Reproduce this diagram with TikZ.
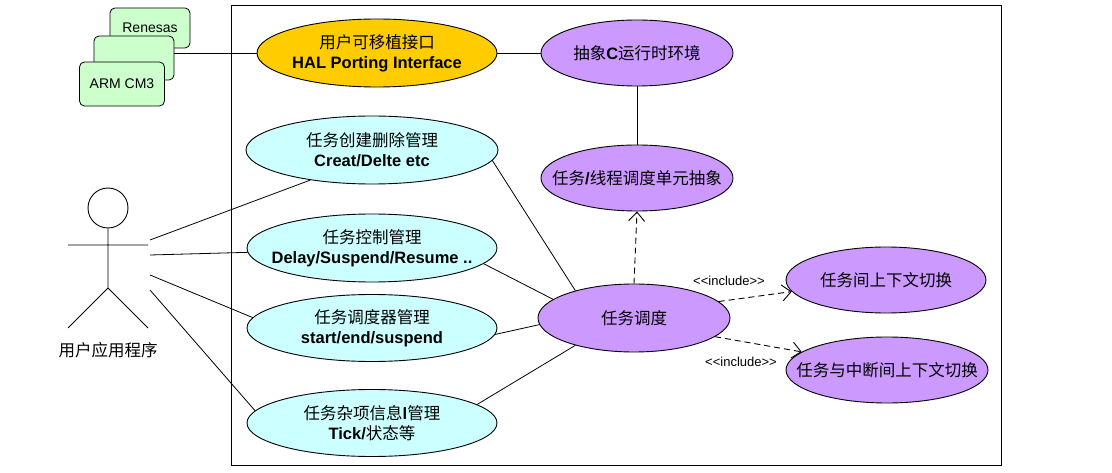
\documentclass[tikz,border=0pt]{standalone}
\usepackage{fontspec}
\setmainfont{Liberation Sans}
\newfontfamily\cjk{Noto Sans CJK SC}
\usetikzlibrary{shapes.geometric,arrows.meta}
\definecolor{uorange}{HTML}{FFCC00}
\definecolor{ucyan}{HTML}{CCFFFF}
\definecolor{upurple}{HTML}{CC99FF}
\definecolor{ugreen}{HTML}{CCFFCC}
\begin{document}
\begin{tikzpicture}[x=1pt,y=-1pt,
  uc/.style={ellipse,draw,line width=0.9pt,inner sep=0pt,align=center,font=\fontsize{16.5}{20}\selectfont},
  uct/.style={inner sep=0pt,align=center,font=\fontsize{16.5}{20}\selectfont},
  box/.style={draw,rounded corners=5pt,fill=ugreen,line width=0.8pt,font=\fontsize{14}{16}\selectfont},
  conn/.style={line width=0.8pt},
  dep/.style={line width=0.9pt,dashed,dash pattern=on 6pt off 4pt,-{Straight Barb[length=9pt,width=16pt]}},
  lab/.style={font=\fontsize{13}{15}\selectfont}]
\useasboundingbox (0,0) rectangle (1112,473);
\fill[white] (0,0) rectangle (1112,473);
\node[draw,line width=0.8pt,minimum width=770pt,minimum height=460pt,inner sep=0pt] (sys) at (616,235) {};
% boxes
\node[box,minimum width=80pt,minimum height=40pt] (ren) at (150,28) {Renesas};
\node[box,minimum width=80pt,minimum height=44pt] (mid) at (134,58) {};
\node[box,minimum width=85pt,minimum height=44pt] (arm) at (122,84) {ARM CM3};
% use cases
\node[uc,fill=uorange,minimum width=240pt,minimum height=68pt] (hal) at (377,53) {{\cjk 用户可移植接口}\\\textbf{HAL Porting Interface}};
\node[uc,fill=upurple,minimum width=192pt,minimum height=66pt] (absc) at (637,53) {{\cjk 抽象}\textbf{C}{\cjk 运行时环境}};
\node[uc,fill=upurple,minimum width=192pt,minimum height=66pt] (unit) at (637,178) {};
\node[uct] (unitt) at (unit) {{\cjk 任务}\textbf{/}{\cjk 线程调度单元抽象}};
\node[uc,fill=ucyan,minimum width=252pt,minimum height=68pt] (creat) at (372,150) {{\cjk 任务创建删除管理}\\\textbf{Creat/Delte etc}};
\node[uc,fill=ucyan,minimum width=250pt,minimum height=68pt] (ctrl) at (372,248) {};
\node[uct] (ctrlt) at (ctrl) {{\cjk 任务控制管理}\\\textbf{Delay/Suspend/Resume ..}};
\node[uc,fill=ucyan,minimum width=250pt,minimum height=67pt] (smgr) at (372,328) {{\cjk 任务调度器管理}\\\textbf{start/end/suspend}};
\node[uc,fill=ucyan,minimum width=250pt,minimum height=67pt] (misc) at (372,423) {{\cjk 任务杂项信息}\textbf{l}{\cjk 管理}\\\textbf{Tick/}{\cjk 状态等}};
\node[uc,fill=upurple,minimum width=192pt,minimum height=68pt] (sched) at (634,318) {\cjk 任务调度};
\node[uc,fill=upurple,minimum width=200pt,minimum height=66pt] (ctx) at (886,280) {\cjk 任务间上下文切换};
\node[uc,fill=upurple,minimum width=202pt,minimum height=66pt] (isr) at (887,370) {};
\node[uct,font=\fontsize{16.5}{20}\selectfont\cjk] (isrt) at (isr) {任务与中断间上下文切换};
% actor
\node[draw,circle,line width=0.9pt,minimum size=40pt,inner sep=0pt] (head) at (108,208) {};
\coordinate (hip) at (108,288);
\coordinate (la) at (68,245);
\coordinate (ra) at (148,245);
\coordinate (ll) at (68,328);
\coordinate (rl) at (148,328);
\draw[line width=0.9pt] (head.south) -- (hip) (la) -- (ra) (ll) -- (hip) -- (rl);
\node[font=\fontsize{16.5}{20}\selectfont\cjk] (actor) at (108,350) {用户应用程序};
\coordinate (a1) at (150,240);
\coordinate (a2) at (150,255);
\coordinate (a3) at (150,275);
\coordinate (a4) at (150,290);
% connectors
\draw[conn] (mid.east |- hal) -- (hal.west);
\draw[conn] (hal) -- (absc);
\draw[conn] (absc) -- (unit);
\draw[conn] (a1) -- (creat.-154);
\draw[conn] (a2) -- (ctrl.182);
\draw[conn] (a3) -- (smgr.175);
\draw[conn] (a4) -- (misc.174);
\draw[conn] (creat.-5) -- (sched.155);
\draw[conn] (ctrl.-8) -- (sched.167);
\draw[conn] (smgr.-3) -- (sched.-176);
\draw[conn] (misc.10) -- (sched.-155);
\draw[dep] (sched.north) -- (unit.south);
\draw[dep] (sched.11) -- (ctx.-173);
\draw[dep] (sched.-13) -- (isr.168);
\node[lab] (i1) at (729,281) {<{}<include>{}>};
\node[lab] (i2) at (741,362) {<{}<include>{}>};
\end{tikzpicture}
\end{document}
